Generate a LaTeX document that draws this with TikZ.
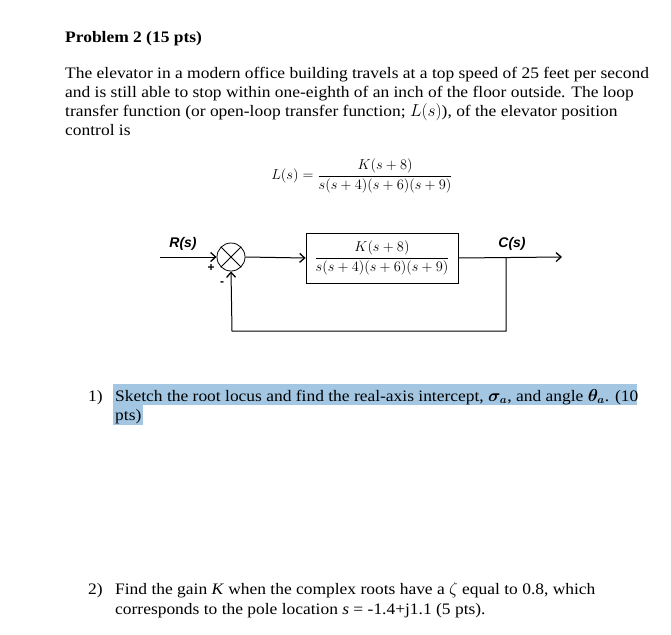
\documentclass[tikz,border=0pt]{standalone}
\usepackage{amsmath}
\usepackage{fontspec}
\setmainfont{Liberation Serif}[FakeStretch=1.09]
\newfontfamily\stretchsans{Liberation Sans}
\usetikzlibrary{arrows.meta}
\definecolor{hl}{RGB}{163,199,226}
\begin{document}
\begin{tikzpicture}[x=1pt,y=-1pt,
  txt/.style={anchor=base west,inner sep=0pt,font=\fontsize{16}{19}\selectfont},
  wire/.style={line width=1pt},
  arr/.style={wire,-{Straight Barb[length=5pt,width=9pt,line width=1.3pt]}}]
\useasboundingbox (0,0) rectangle (671,634);
\node[txt,font=\fontsize{16}{19}\selectfont\bfseries] (title) at (65,43) {Problem 2 (15 pts)};
\node[txt] (p1) at (65,78) {The elevator in a modern office building travels at a top speed of 25 feet per second};
\node[txt] (p2) at (65,97) {and is still able to stop within one-eighth of an inch of the floor outside. The loop};
\node[txt] (p3) at (65,116) {transfer function (or open-loop transfer function; \(L(s)\)), of the elevator position};
\node[txt] (p4) at (65,135) {control is};
\node[inner sep=0pt,font=\fontsize{15}{18}\selectfont] (eq) at (362,176) {$L(s)=\dfrac{K(s+8)}{s(s+4)(s+6)(s+9)}$};
% block diagram
\node[draw,circle,minimum size=28pt,inner sep=0pt,line width=0.8pt] (sum) at (231,257) {};
\draw[line width=0.8pt] (sum.north west) -- (sum.south east) (sum.north east) -- (sum.south west);
\node[draw,line width=0.8pt,minimum width=152pt,minimum height=50pt,inner sep=0pt,font=\fontsize{14}{17}\selectfont] (G) at (382,258) {$\dfrac{K(s+8)}{s(s+4)(s+6)(s+9)}$};
\coordinate (rin) at (160,257);
\coordinate (cout) at (562,257);
\coordinate (br) at (506,257);
\coordinate (b1) at (506,331);
\coordinate (b2) at (232,331);
\draw[arr] (rin) -- (sum.west);
\draw[arr] (sum.east) -- (G.west);
\draw[arr] (G.east) -- (cout);
\draw[arr] (br) -- (b1) -- (b2) -- (sum.south);
\node[font=\fontsize{14}{17}\stretchsans\itshape\bfseries,anchor=base] (R) at (183,247) {R(s)};
\node[font=\fontsize{14}{17}\stretchsans\itshape\bfseries,anchor=base] (C) at (512,247) {C(s)};
\node[font=\stretchsans\bfseries\large] (plus) at (211,268) {+};
\node[font=\stretchsans\bfseries\large] (minus) at (222,284) {-};
% item 1
\fill[hl] (113,384) rectangle (637,405);
\fill[hl] (113,405) rectangle (143,425);
\node[txt] (n1) at (88,401) {1)};
\node[txt] (i1a) at (115,401) {Sketch the root locus and find the real-axis intercept, $\boldsymbol{\sigma_a}$, and angle $\boldsymbol{\theta_a}$. (10};
\node[txt] (i1b) at (115,420) {pts)};
% item 2
\node[txt] (n2) at (88,594) {2)};
\node[txt] (i2a) at (115,594) {Find the gain \textit{K} when the complex roots have a $\zeta$ equal to 0.8, which};
\node[txt] (i2b) at (115,614) {corresponds to the pole location \textit{s} = -1.4+j1.1 (5 pts).};
\end{tikzpicture}
\end{document}
